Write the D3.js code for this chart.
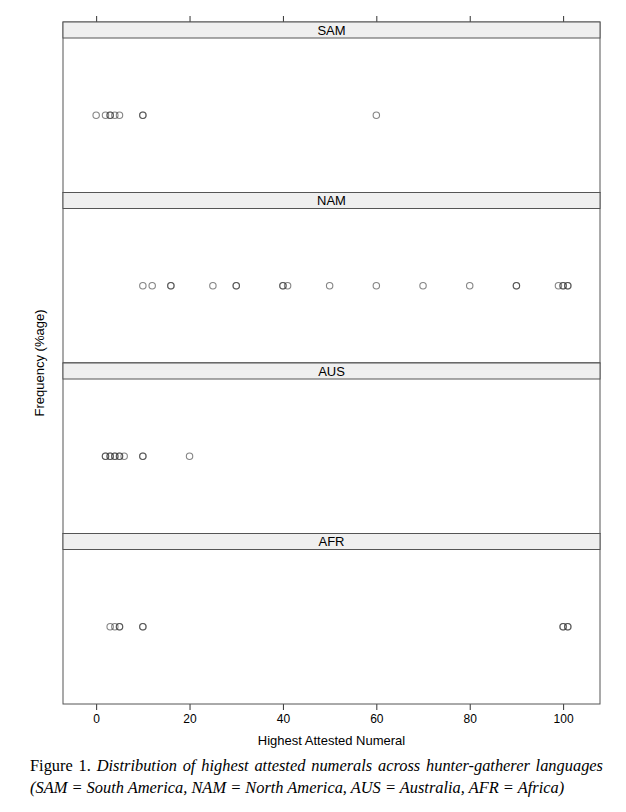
<!DOCTYPE html>
<html>
<head>
<meta charset="utf-8">
<title>Highest attested numerals</title>
<script src="https://d3js.org/d3.v7.min.js"></script>
<style>
body { margin: 0; background: #fff; }
#chart { position: absolute; left: 0; top: 0; }
.strip text { font-family: "Liberation Sans", Arial, sans-serif; font-size: 13px; fill: #000; }
.axis text { font-family: "Liberation Sans", Arial, sans-serif; font-size: 12px; fill: #000; }
.axis path { display: none; }
.axis line { stroke: #333; }
.label { font-family: "Liberation Sans", Arial, sans-serif; font-size: 13px; fill: #000; }
.caption {
  position: absolute; left: 30px; width: 573px; white-space: nowrap;
  font-family: "Liberation Serif", "Times New Roman", serif; font-size: 16.4px; line-height: 22px;
  color: #000;
}
#cap1 { top: 755px; text-align: justify; text-align-last: justify; white-space: normal; }
#cap2 { top: 777px; text-align: left; }
</style>
</head>
<body>
<div id="chart"></div>
<div id="cap1" class="caption">Figure&nbsp;1. <i>Distribution of highest attested numerals across hunter-gatherer languages</i></div>
<div id="cap2" class="caption"><i>(SAM = South America, NAM = North America, AUS = Australia, AFR = Africa)</i></div>
<script>
// panels, top to bottom
var regions = ["SAM", "NAM", "AUS", "AFR"];
var samValues = [0, 2, 3, 3, 4, 5, 10, 10, 60];
var namValues = [10, 12, 16, 16, 25, 30, 30, 40, 40, 41, 50, 60, 70, 80, 90, 90, 99, 100, 100, 101, 101];
var ausValues = [2, 2, 3, 3, 4, 4, 5, 5, 6, 10, 10, 20];
var afrValues = [3, 4, 5, 5, 10, 10, 100, 100, 101, 101];
var xTicks = [0, 20, 40, 60, 80, 100];

var values = { SAM: samValues, NAM: namValues, AUS: ausValues, AFR: afrValues };

var width = 626, height = 750;
var plotLeft = 63, plotRight = 600, plotTop = 22, plotBottom = 704;
var stripH = 16;

var svg = d3.select("#chart").append("svg")
  .attr("width", width)
  .attr("height", height);

var x = d3.scaleLinear()
  .domain([-7.1, 107.9])
  .range([plotLeft, plotRight]);

var panel = d3.scaleBand()
  .domain(regions)
  .range([plotTop, plotBottom]);

// top ticks, no labels
svg.append("g")
  .attr("class", "axis")
  .attr("transform", "translate(0," + plotTop + ")")
  .call(d3.axisTop(x).tickValues(xTicks).tickSize(6).tickFormat(""));

svg.append("g")
  .attr("class", "axis")
  .attr("transform", "translate(0," + plotBottom + ")")
  .call(d3.axisBottom(x).tickValues(xTicks).tickSize(6).tickPadding(4));

var g = svg.selectAll("g.panel")
  .data(regions)
  .enter().append("g")
  .attr("class", "panel")
  .attr("transform", function(d) { return "translate(0," + panel(d) + ")"; });

g.append("rect")
  .attr("x", plotLeft)
  .attr("y", 0)
  .attr("width", plotRight - plotLeft)
  .attr("height", panel.bandwidth())
  .attr("fill", "none")
  .attr("stroke", "#555")
  .attr("stroke-width", 1);

var strip = g.append("g").attr("class", "strip");
strip.append("rect")
  .attr("x", plotLeft)
  .attr("y", 0)
  .attr("width", plotRight - plotLeft)
  .attr("height", stripH)
  .attr("fill", "#efefef")
  .attr("stroke", "#555")
  .attr("stroke-width", 1);
strip.append("text")
  .attr("x", (plotLeft + plotRight) / 2)
  .attr("y", stripH / 2)
  .attr("dy", "0.36em")
  .attr("text-anchor", "middle")
  .text(function(d) { return d; });

// overlapping points get darker, like the original
g.each(function(region) {
  var cy = stripH + (panel.bandwidth() - stripH) / 2;
  d3.select(this).selectAll("circle")
    .data(values[region])
    .enter().append("circle")
    .attr("cx", function(d) { return x(d); })
    .attr("cy", cy)
    .attr("r", 3.2)
    .attr("fill", "none")
    .attr("stroke", "#3a3a3a")
    .attr("stroke-opacity", 0.62)
    .attr("stroke-width", 1.1);
});

svg.append("text")
  .attr("class", "label")
  .attr("text-anchor", "middle")
  .attr("transform", "translate(44," + ((plotTop + plotBottom) / 2) + ") rotate(-90)")
  .text("Frequency (%age)");

svg.append("text")
  .attr("class", "label")
  .attr("x", (plotLeft + plotRight) / 2)
  .attr("y", 745)
  .attr("text-anchor", "middle")
  .text("Highest Attested Numeral");
</script>
</body>
</html>
